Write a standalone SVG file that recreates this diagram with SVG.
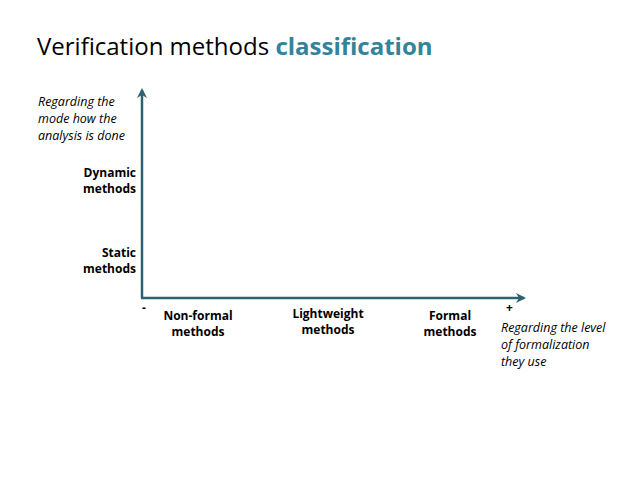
<svg xmlns="http://www.w3.org/2000/svg" width="638" height="478" viewBox="0 0 638 478">
<style>
text{font-family:"Open Sans","Noto Sans",sans-serif;fill:#000}
.b{font-size:12px;font-weight:bold}
.i{font-size:12.5px;font-style:italic}
.ax{stroke:#2e6170;stroke-width:2.5;fill:none}
</style>
<defs><marker id="ah" viewBox="0 0 10 10" refX="8" refY="5" markerWidth="4" markerHeight="4" orient="auto"><path d="M0,0 L10,5 L0,10 L3,5z" fill="#2e6170"/></marker></defs>
<rect width="638" height="478" fill="#fff"/>
<text x="37" y="55" style="font-size:24px">Verification methods <tspan style="font-weight:bold;fill:#31849b">classification</tspan></text>
<g id="connectors">
<path class="ax" d="M142,298 V90" marker-end="url(#ah)"/>
<path class="ax" d="M141,298 H524" marker-end="url(#ah)"/>
</g>
<g id="yaxis-label"><text class="i" x="38" y="106">Regarding the</text><text class="i" x="38" y="123">mode how the</text><text class="i" x="38" y="140">analysis is done</text></g>
<g id="dynamic" text-anchor="end"><text class="b" x="136" y="177">Dynamic</text><text class="b" x="136" y="193">methods</text></g>
<g id="static" text-anchor="end"><text class="b" x="136" y="257">Static</text><text class="b" x="136" y="273">methods</text></g>
<g id="minus"><text class="b" x="142" y="312">-</text></g>
<g id="plus"><text class="b" x="506" y="312">+</text></g>
<g id="nonformal" text-anchor="middle"><text class="b" x="198" y="320">Non-formal</text><text class="b" x="198" y="336">methods</text></g>
<g id="lightweight" text-anchor="middle"><text class="b" x="328" y="318">Lightweight</text><text class="b" x="328" y="334">methods</text></g>
<g id="formal" text-anchor="middle"><text class="b" x="450" y="320">Formal</text><text class="b" x="450" y="336">methods</text></g>
<g id="xaxis-label"><text class="i" x="501" y="332">Regarding the level</text><text class="i" x="501" y="349">of formalization</text><text class="i" x="501" y="366">they use</text></g>
</svg>
